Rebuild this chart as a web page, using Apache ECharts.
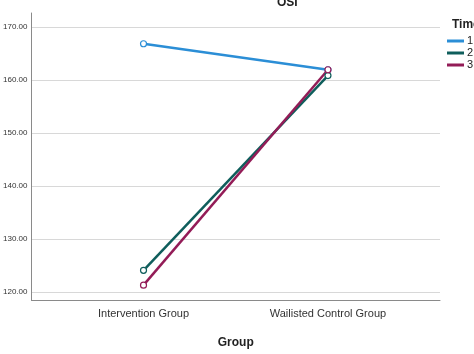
<!DOCTYPE html>
<html>
<head>
<meta charset="utf-8">
<script src="https://cdn.jsdelivr.net/npm/echarts@6/dist/echarts.min.js"></script>
<style>
  html, body { margin: 0; padding: 0; background: #fff; }
  #chart { width: 474px; height: 354px; }
</style>
</head>
<body>
<div id="chart"></div>
<script>
// data
var groups = ['Intervention Group', 'Wailisted Control Group']
var times = ['1', '2', '3']
var time1 = [166.8, 161.9]
var time2 = [124.1, 160.8]
var time3 = [121.3, 161.9]
var yTicks = [120, 130, 140, 150, 160, 170]
var colors = ['#2b8ed6', '#0f5e5c', '#931c57']

function pts(vals) {
  return vals.map(function (v, i) { return [i, v] })
}

function lineSeries(name, vals, color) {
  return {
    name: name,
    type: 'line',
    data: pts(vals),
    symbol: 'circle',
    symbolSize: 6,
    showSymbol: true,
    lineStyle: { width: 2.5, color: color },
    itemStyle: { color: '#fff', borderColor: color, borderWidth: 1.2 }
  }
}

var chart = echarts.init(document.getElementById('chart'))
chart.setOption({
  backgroundColor: '#fff',
  animation: false,
  color: colors,
  title: [{
    text: 'OSI',
    left: 272,
    top: -8,
    textStyle: { fontFamily: 'Liberation Sans', fontSize: 12, fontWeight: 'bold', color: '#222' }
  }, {
    text: 'Time',
    left: 447,
    top: 14,
    textStyle: { fontFamily: 'Liberation Sans', fontSize: 12, fontWeight: 'bold', color: '#222' }
  }],
  legend: {
    orient: 'vertical',
    left: 447,
    top: 35,
    icon: 'rect',
    itemWidth: 17,
    itemHeight: 3,
    itemGap: 0,
    padding: 0,
    itemStyle: { borderWidth: 0 },
    data: times.map(function (t, i) {
      return { name: t, itemStyle: { color: colors[i], borderWidth: 0 } }
    }),
    textStyle: { fontFamily: 'Liberation Sans', fontSize: 11, lineHeight: 12, color: '#222', padding: [0, 0, 0, -2] }
  },
  grid: { left: 28, right: 34, top: 13, bottom: 44, containLabel: false },
  xAxis: {
    type: 'value',
    min: -0.6075,
    max: 1.6075,
    name: 'Group',
    nameLocation: 'middle',
    nameGap: 37,
    nameTextStyle: { fontFamily: 'Liberation Sans', fontSize: 12, fontWeight: 'bold', color: '#222' },
    axisLine: { show: true, onZero: false, lineStyle: { color: '#8a8a8a', width: 1 } },
    axisTick: { show: false, customValues: [0, 1] },
    splitLine: { show: false },
    axisLabel: {
      customValues: [0, 1],
      margin: 8,
      fontFamily: 'Liberation Sans',
      fontSize: 11,
      color: '#333',
      formatter: function (v) { return groups[Math.round(v)] }
    }
  },
  yAxis: {
    type: 'value',
    min: 118.5,
    max: 172.6,
    axisLine: { show: true, onZero: false, lineStyle: { color: '#8a8a8a', width: 1 } },
    axisTick: { show: false, customValues: yTicks },
    splitLine: { show: true, customValues: yTicks, lineStyle: { color: '#d8d8d8', width: 1 } },
    axisLabel: {
      customValues: yTicks,
      margin: 4,
      fontFamily: 'Liberation Sans',
      fontSize: 8,
      color: '#333',
      formatter: function (v) { return v.toFixed(2) }
    }
  },
  series: [
    lineSeries(times[0], time1, colors[0]),
    lineSeries(times[1], time2, colors[1]),
    lineSeries(times[2], time3, colors[2])
  ]
})
</script>
</body>
</html>
